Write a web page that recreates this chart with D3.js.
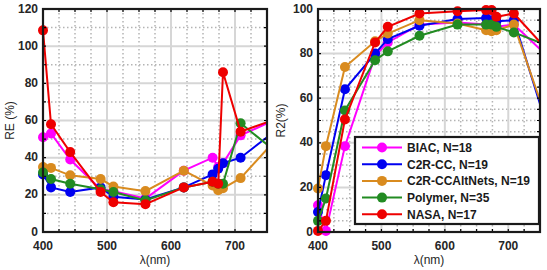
<!DOCTYPE html>
<html>
<head>
<meta charset="utf-8">
<script src="https://cdn.jsdelivr.net/npm/d3@7"></script>
<style>
  body { margin: 0; background: #fff; }
  svg { display: block; font-family: "Liberation Sans", Arial, sans-serif; }
</style>
</head>
<body>
<svg id="chart" width="547" height="270"></svg>
<script>
// band centres (nm)
const wavelengths = [400, 412.5, 442.5, 490, 510, 560, 620, 665, 673.75, 681.25, 708.75, 753.75];
const seriesNames = ["BIAC, N=18", "C2R-CC, N=19", "C2R-CCAltNets, N=19", "Polymer, N=35", "NASA, N=17"];

// RE (%)
const reBIAC    = [51, 53, 39, 23, 22, 18, 33, 40, 35, 37, 52, 59];
const reC2RCC   = [31, 24, 21.5, 24, 19, 17.5, 24, 31, 34, 37, 40, 52];
const reAltNets = [35, 34.5, 30.5, 28.5, 24.5, 22, 33, 25, 22.5, 23.5, 29, 46];
const rePolymer = [32, 28.5, 26, 23, 21.5, 17, 24, 27, 26, 26, 58.5, 46];
const reNASA    = [108.5, 58, 43, 21.5, 16, 15, 24, 27, 26, 86, 54, 59.5];

// R2 (%)
const r2BIAC    = [12, 0.5, 38.5, 79, 85, 93, 94, 93, 92, 92, 93, 81];
const r2C2RCC   = [9, 25.5, 64, 80, 86.5, 92.5, 95.5, 96, 95, 94.5, 95, 54];
const r2AltNets = [19.5, 38.5, 74, 85.5, 89, 95, 93.5, 90.5, 90, 90.5, 93, 56];
const r2Polymer = [5, 15, 54.5, 77, 81, 88, 93, 93, 93, 92, 89.5, 84.5];
const r2NASA    = [0.5, 5, 50.5, 85, 92, 98, 99, 99.5, 99.5, 96.5, 98, 84];

const xTicks = [400, 500, 600, 700];
const reTicks = [0, 20, 40, 60, 80, 100, 120];
const r2Ticks = [0, 20, 40, 60, 80, 100];

const colors = ["#ff00ff", "#0000f0", "#d98b1f", "#228b22", "#ee0000"];

const svg = d3.select("#chart");

function drawPanel(opts) {
  const { left, right, top, bottom, yMax, yTicks, yMinor, values, yLabel, yLabelX, id } = opts;
  const x = d3.scaleLinear().domain([400, 750]).range([left, right]);
  const y = d3.scaleLinear().domain([0, yMax]).range([bottom, top]);
  const g = svg.append("g");

  g.append("clipPath").attr("id", id).append("rect")
    .attr("x", left).attr("y", top).attr("width", right - left).attr("height", bottom - top);

  const xMinor = d3.range(400, 751, 25);
  const yMinorVals = d3.range(0, yMax + 0.1, yMinor);

  // minor dotted grid
  g.selectAll(".xminor").data(xMinor.filter(v => v % 100 !== 0))
    .join("line")
    .attr("x1", d => x(d)).attr("x2", d => x(d)).attr("y1", top).attr("y2", bottom)
    .attr("stroke", "#b4b4b4").attr("stroke-width", 1.5).attr("stroke-dasharray", "1.5,2.5");
  g.selectAll(".yminor").data(yMinorVals.filter(v => v % 20 !== 0))
    .join("line")
    .attr("x1", left).attr("x2", right).attr("y1", d => y(d)).attr("y2", d => y(d))
    .attr("stroke", "#b4b4b4").attr("stroke-width", 1.5).attr("stroke-dasharray", "1.5,2.5");
  // major solid grid
  g.selectAll(".xmajor").data(xTicks.filter(v => v > 400))
    .join("line")
    .attr("x1", d => x(d)).attr("x2", d => x(d)).attr("y1", top).attr("y2", bottom)
    .attr("stroke", "#d6d6d6").attr("stroke-width", 2);
  g.selectAll(".ymajor").data(yTicks.filter(v => v > 0 && v < yMax))
    .join("line")
    .attr("x1", left).attr("x2", right).attr("y1", d => y(d)).attr("y2", d => y(d))
    .attr("stroke", "#d6d6d6").attr("stroke-width", 2);

  // series
  const line = d3.line().x((d, i) => x(wavelengths[i])).y(d => y(d));
  values.forEach((vals, k) => {
    g.append("path").datum(vals)
      .attr("d", line)
      .attr("fill", "none")
      .attr("stroke", colors[k])
      .attr("stroke-width", 2)
      .attr("clip-path", `url(#${id})`);
    g.selectAll(null)
      .data(vals.map((v, i) => [wavelengths[i], v]).filter(d => d[0] <= 750))
      .join("circle")
      .attr("cx", d => x(d[0])).attr("cy", d => y(d[1]))
      .attr("r", 5)
      .attr("fill", colors[k]);
  });

  // inward ticks on all sides
  const tl = 3;
  g.selectAll(".tb").data(xMinor).join("path")
    .attr("d", d => `M${x(d)},${bottom}v${-tl}M${x(d)},${top}v${tl}`)
    .attr("stroke", "#000").attr("stroke-width", 1.2);
  g.selectAll(".tlr").data(yMinorVals).join("path")
    .attr("d", d => `M${left},${y(d)}h${tl}M${right},${y(d)}h${-tl}`)
    .attr("stroke", "#000").attr("stroke-width", 1.2);

  // frame
  g.append("rect")
    .attr("x", left).attr("y", top).attr("width", right - left).attr("height", bottom - top)
    .attr("fill", "none").attr("stroke", "#1a1a1a").attr("stroke-width", 2.2);

  // tick labels
  g.selectAll(".xl").data(xTicks).join("text")
    .attr("x", d => x(d)).attr("y", bottom + 17.5)
    .attr("text-anchor", "middle")
    .attr("font-size", 12).attr("font-weight", "bold").attr("fill", "#262626")
    .text(d => d);
  g.selectAll(".yl").data(yTicks).join("text")
    .attr("x", left - 5).attr("y", d => y(d)).attr("dy", "0.3em")
    .attr("text-anchor", "end")
    .attr("font-size", 12).attr("font-weight", "bold").attr("fill", "#262626")
    .text(d => d);

  g.append("text")
    .attr("x", (left + right) / 2).attr("y", 264)
    .attr("text-anchor", "middle").attr("font-size", 12).attr("fill", "#262626")
    .text("λ(nm)");
  g.append("text")
    .attr("transform", `translate(${yLabelX},${(top + bottom) / 2}) rotate(-90)`)
    .attr("dy", "0.35em")
    .attr("text-anchor", "middle").attr("font-size", 12).attr("fill", "#262626")
    .text(yLabel);
  return g;
}

drawPanel({
  id: "clipL", left: 43, right: 267, top: 9, bottom: 232, yMax: 120, yTicks: reTicks, yMinor: 10,
  values: [reBIAC, reC2RCC, reAltNets, rePolymer, reNASA], yLabel: "RE (%)", yLabelX: 10
});
const gR = drawPanel({
  id: "clipR", left: 318, right: 540, top: 9, bottom: 232, yMax: 100, yTicks: r2Ticks, yMinor: 5,
  values: [r2BIAC, r2C2RCC, r2AltNets, r2Polymer, r2NASA], yLabel: "R2(%)", yLabelX: 281
});

// legend
const lg = gR.append("g");
lg.append("rect")
  .attr("x", 355).attr("y", 137).attr("width", 184).attr("height", 87)
  .attr("fill", "#fff").attr("stroke", "#1a1a1a").attr("stroke-width", 2.2);
seriesNames.forEach((name, i) => {
  const yy = 147.5 + i * 16.7;
  lg.append("line").attr("x1", 362).attr("x2", 402).attr("y1", yy).attr("y2", yy)
    .attr("stroke", colors[i]).attr("stroke-width", 2);
  lg.append("circle").attr("cx", 382).attr("cy", yy).attr("r", 5).attr("fill", colors[i]);
  lg.append("text").attr("x", 407).attr("y", yy).attr("dy", "0.36em")
    .attr("font-size", 12).attr("font-weight", "bold").attr("fill", "#1a1a1a")
    .text(name);
});
</script>
</body>
</html>
